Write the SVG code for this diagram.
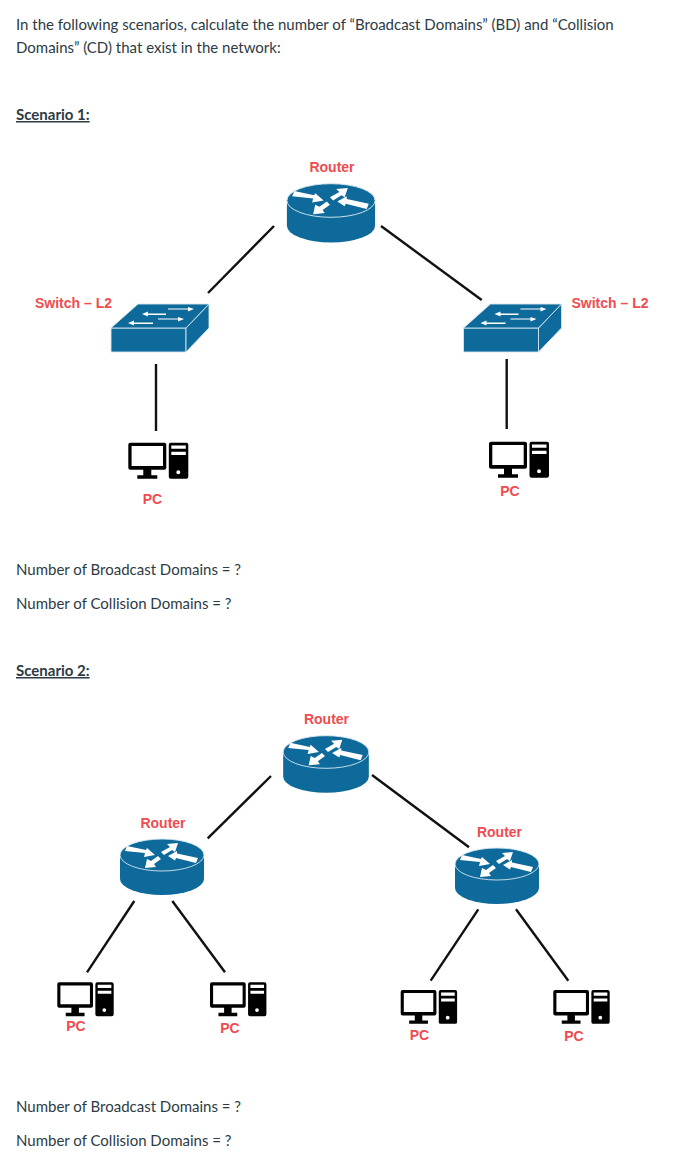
<svg xmlns="http://www.w3.org/2000/svg" width="677" height="1170" viewBox="0 0 677 1170">
<style>
.t{font-family:Lato,"Liberation Sans",sans-serif;font-size:15px;fill:#2d3b45}
.h{font-weight:700;text-decoration:underline}
.l{font-family:"Liberation Sans",Arial,sans-serif;font-size:14px;font-weight:700;fill:#ee4c50;text-anchor:middle}
.c{stroke:#111;stroke-width:2.4;fill:none}
.b{fill:#0f6a9c;stroke:#d5e6ef;stroke-width:.9}
.a{fill:#fff}
</style>
<defs>
<g id="router">
<path d="M-42 0V24A42 16 0 0 0 42 24V0Z" fill="#0f6a9c"/>
<ellipse class="b" cx="0" cy="0" rx="42" ry="16"/>
<path class="a" d="M-35-9L-37-4L-17-2L-18 2L-7 0L-15-7L-16-5Z"/>
<path class="a" d="M6 1L15-4L15-1.500L36 3L34 8L14 3L13 5.500Z"/>
<path class="a" d="M16-12L13-3L10-5L2 0L-1-3L8-8L5-11Z"/>
<path class="a" d="M-17 13L-15 4L-11 6L-4 1L-1 4L-8 9L-6 12Z"/>
</g>
<g id="switch">
<path class="b" d="M0 24H75V48H0Z"/>
<path class="b" d="M75 24L98 0V24L75 48Z"/>
<path class="b" d="M0 24L27 0H98L75 24Z"/>
<path class="a" d="M57 4.500H77V3L83 5L77 7.500V5.500H57Z"/>
<path class="a" d="M31 10L37 7.500V9.500H55V11H37V12.500Z"/>
<path class="a" d="M47 14.500H67V13L73 15L67 17.500V15.500H47Z"/>
<path class="a" d="M17 19L23 16.500V18.500H42V20H23V21.500Z"/>
</g>
<g id="pc">
<path d="M2 0H36A2 2 0 0 1 38 2V25A2 2 0 0 1 36 27H23V32.500H29V36H9V32.500H15V27H2A2 2 0 0 1 0 25V2A2 2 0 0 1 2 0ZM3.300 3.300V23.300H34.700V3.300Z" fill="#000" fill-rule="evenodd"/>
<path d="M42.500 0H58A2 2 0 0 1 60 2V34A2 2 0 0 1 58 36H42.500A2 2 0 0 1 40.500 34V2A2 2 0 0 1 42.500 0ZM43 2.700V6H57.500V2.700ZM43 9V12.300H57.500V9ZM50 27.500A2 2 0 1 0 50 31.500A2 2 0 1 0 50 27.500Z" fill="#000" fill-rule="evenodd"/>
</g>
</defs>

<text class="t" x="16" y="30">In the following scenarios, calculate the number of “Broadcast Domains” (BD) and “Collision</text>
<text class="t" x="16" y="53">Domains” (CD) that exist in the network:</text>
<text class="t h" x="16" y="120">Scenario 1:</text>
<text class="t" x="16" y="575">Number of Broadcast Domains = ?</text>
<text class="t" x="16" y="609">Number of Collision Domains = ?</text>
<text class="t h" x="16" y="676">Scenario 2:</text>
<text class="t" x="16" y="1112">Number of Broadcast Domains = ?</text>
<text class="t" x="16" y="1146">Number of Collision Domains = ?</text>

<g id="connectors">
<path class="c" d="M274 226L208 293"/>
<path class="c" d="M381 226L481.700 300"/>
<path class="c" d="M156 364V431"/>
<path class="c" d="M506.700 359V429"/>
<path class="c" d="M271 776L207.700 838.300"/>
<path class="c" d="M372 775L469 847.300"/>
<path class="c" d="M134.300 901L87 972.300"/>
<path class="c" d="M172.300 901L225 972.300"/>
<path class="c" d="M478.300 909.300L430.700 980.700"/>
<path class="c" d="M516 909.300L568.300 980.700"/>
</g>

<g id="s1-router"><use href="#router" transform="translate(331 200.500) scale(1.05)"/><text class="l" x="332" y="172">Router</text></g>
<g id="s1-switch-left"><use href="#switch" x="111" y="304"/><text class="l" x="73.500" y="308">Switch – L2</text></g>
<g id="s1-switch-right"><use href="#switch" x="463.500" y="304"/><text class="l" x="610" y="308">Switch – L2</text></g>
<g id="s1-pc-left"><use href="#pc" x="128.300" y="442.700"/><text class="l" x="152.500" y="504">PC</text></g>
<g id="s1-pc-right"><use href="#pc" x="489" y="441.700"/><text class="l" x="510" y="496">PC</text></g>

<g id="s2-router-top"><use href="#router" transform="translate(326 752) scale(1.02)"/><text class="l" x="326.500" y="724">Router</text></g>
<g id="s2-router-left"><use href="#router" x="162" y="855"/><text class="l" x="163" y="828">Router</text></g>
<g id="s2-router-right"><use href="#router" x="497" y="864"/><text class="l" x="499.500" y="837">Router</text></g>
<g id="s2-pc-1"><use href="#pc" transform="translate(57.300 982.300) scale(.94)"/><text class="l" x="76" y="1031">PC</text></g>
<g id="s2-pc-2"><use href="#pc" transform="translate(210 982.300) scale(.94)"/><text class="l" x="230" y="1033">PC</text></g>
<g id="s2-pc-3"><use href="#pc" transform="translate(400.700 990) scale(.94)"/><text class="l" x="419.500" y="1040">PC</text></g>
<g id="s2-pc-4"><use href="#pc" transform="translate(553.300 990) scale(.94)"/><text class="l" x="574" y="1041">PC</text></g>
</svg>
